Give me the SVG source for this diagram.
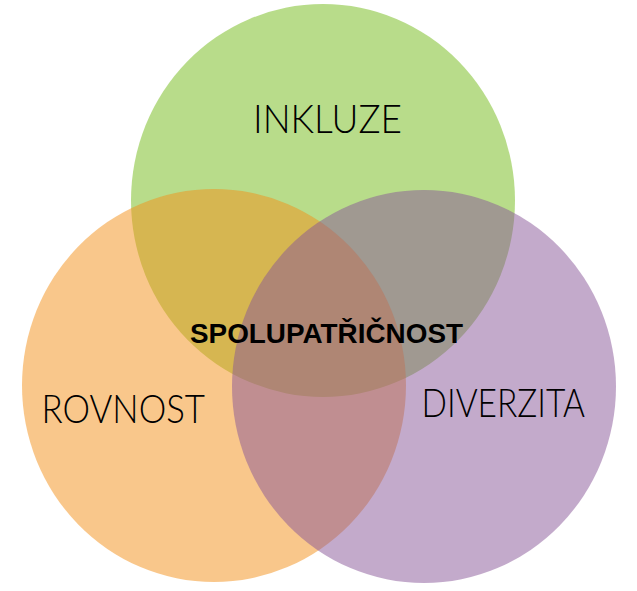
<svg xmlns="http://www.w3.org/2000/svg" width="637" height="591" viewBox="0 0 637 591">
<style>
.c{fill-opacity:0.5;stroke:none}
.lbl{font-family:Lato,"Liberation Sans",Arial,sans-serif;font-size:40px;font-weight:300;fill:#000}
.mid{font-family:"Liberation Sans",Arial,sans-serif;font-size:28px;font-weight:bold;fill:#000}
</style>
<rect width="637" height="591" fill="#fff"/>
<g id="inkluze">
<ellipse class="c" cx="323" cy="200.5" rx="192" ry="196.5" fill="#71B915"/>
</g>
<g id="rovnost">
<ellipse class="c" cx="214" cy="385.5" rx="192" ry="196.5" fill="#F38F17"/>
</g>
<g id="diverzita">
<ellipse class="c" cx="424" cy="386.5" rx="192" ry="196.5" fill="#875597"/>
</g>
<g id="labels">
<text class="lbl" x="253" y="132.7" textLength="149" lengthAdjust="spacingAndGlyphs">INKLUZE</text>
<text class="lbl" x="41.5" y="422.7" textLength="163.5" lengthAdjust="spacingAndGlyphs">ROVNOST</text>
<text class="lbl" x="421.5" y="416.7" textLength="163.5" lengthAdjust="spacingAndGlyphs">DIVERZITA</text>
<text class="mid" x="190" y="343.3" textLength="273" lengthAdjust="spacingAndGlyphs">SPOLUPATŘIČNOST</text>
</g>
</svg>
